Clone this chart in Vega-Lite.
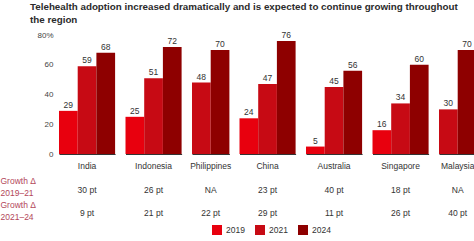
{
  "$schema": "https://vega.github.io/schema/vega-lite/v6.json",
  "padding": {"left": 0, "top": 2, "right": 0, "bottom": 3},
  "title": {
    "text": ["Telehealth adoption increased dramatically and is expected to continue growing throughout", "the region"],
    "anchor": "start",
    "frame": "bounds",
    "dx": 30,
    "offset": 6,
    "font": "Liberation Sans",
    "fontSize": 9.8,
    "fontWeight": "bold",
    "lineHeight": 13,
    "color": "#2b2b2b"
  },
  "datasets": {
    "growth": [
      {"country": "India", "order": 1, "g1": "30 pt", "g2": "9 pt"},
      {"country": "Indonesia", "order": 2, "g1": "26 pt", "g2": "21 pt"},
      {"country": "Philippines", "order": 3, "g1": "NA", "g2": "22 pt"},
      {"country": "China", "order": 4, "g1": "23 pt", "g2": "29 pt"},
      {"country": "Australia", "order": 5, "g1": "40 pt", "g2": "11 pt"},
      {"country": "Singapore", "order": 6, "g1": "18 pt", "g2": "26 pt"},
      {"country": "Malaysia", "order": 7, "g1": "NA", "g2": "40 pt"}
    ]
  },
  "data": {
    "values": [
      {"country": "India", "year": "2019", "value": 29},
      {"country": "India", "year": "2021", "value": 59},
      {"country": "India", "year": "2024", "value": 68},
      {"country": "Indonesia", "year": "2019", "value": 25},
      {"country": "Indonesia", "year": "2021", "value": 51},
      {"country": "Indonesia", "year": "2024", "value": 72},
      {"country": "Philippines", "year": "2021", "value": 48},
      {"country": "Philippines", "year": "2024", "value": 70},
      {"country": "China", "year": "2019", "value": 24},
      {"country": "China", "year": "2021", "value": 47},
      {"country": "China", "year": "2024", "value": 76},
      {"country": "Australia", "year": "2019", "value": 5},
      {"country": "Australia", "year": "2021", "value": 45},
      {"country": "Australia", "year": "2024", "value": 56},
      {"country": "Singapore", "year": "2019", "value": 16},
      {"country": "Singapore", "year": "2021", "value": 34},
      {"country": "Singapore", "year": "2024", "value": 60},
      {"country": "Malaysia", "year": "2021", "value": 30},
      {"country": "Malaysia", "year": "2024", "value": 70}
    ]
  },
  "transform": [
    {"lookup": "country", "from": {"data": {"name": "growth"}, "key": "country", "fields": ["order", "g1", "g2"]}},
    {"calculate": "datum.country + '|' + datum.g1 + '|' + datum.g2", "as": "head"}
  ],
  "facet": {
    "column": {
      "field": "head",
      "type": "nominal",
      "sort": {"field": "order", "op": "min"},
      "title": null,
      "header": {
        "labelOrient": "bottom",
        "labelExpr": "split(datum.value, '|')",
        "labelLineHeight": 23.5,
        "labelFont": "Liberation Sans",
        "labelFontSize": 8.5,
        "labelColor": "#333333",
        "labelPadding": 8
      }
    }
  },
  "spacing": 9.5,
  "bounds": "flush",
  "resolve": {"scale": {"x": "independent"}},
  "spec": {
    "width": {"step": 18.7},
    "height": 119,
    "encoding": {
      "x": {
        "field": "year",
        "type": "nominal",
        "sort": "ascending",
        "scale": {"paddingInner": 0, "paddingOuter": 0},
        "axis": {"labels": false, "ticks": false, "title": null, "domainColor": "#333333", "domainWidth": 1}
      },
      "y": {
        "field": "value",
        "type": "quantitative",
        "scale": {"domain": [0, 80]},
        "axis": {
          "values": [0, 20, 40, 60, 80],
          "labelExpr": "datum.value == 80 ? '80%' : datum.label",
          "grid": false,
          "domain": false,
          "ticks": false,
          "labelPadding": 6,
          "labelFont": "Liberation Sans",
          "labelFontSize": 8,
          "labelColor": "#444444",
          "title": ["Growth Δ", "2019–21", "Growth Δ", "2021–24"],
          "titleAngle": 0,
          "titleX": -59,
          "titleY": 141,
          "titleAlign": "left",
          "titleBaseline": "top",
          "titleFont": "Liberation Sans",
          "titleFontSize": 8.5,
          "titleFontWeight": "normal",
          "titleLineHeight": 12,
          "titleColor": "#b3475a"
        }
      }
    },
    "layer": [
      {
        "mark": {"type": "bar"},
        "encoding": {
          "color": {
            "field": "year",
            "type": "nominal",
            "scale": {"domain": ["2019", "2021", "2024"], "range": ["#e8000e", "#c70a14", "#8e0000"]},
            "legend": {
              "title": null,
              "orient": "none",
              "legendX": 153,
              "legendY": 190,
              "direction": "horizontal",
              "symbolType": "square",
              "symbolSize": 100,
              "symbolStrokeWidth": 0,
              "symbolOpacity": 1,
              "labelFont": "Liberation Sans",
              "labelFontSize": 8.5,
              "labelColor": "#333333",
              "columnPadding": 10
            }
          }
        }
      },
      {
        "mark": {"type": "text", "dy": -6, "font": "Liberation Sans", "fontSize": 8.5, "color": "#333333"},
        "encoding": {"text": {"field": "value", "type": "quantitative"}}
      }
    ]
  },
  "config": {
    "view": {"stroke": null}
  }
}
